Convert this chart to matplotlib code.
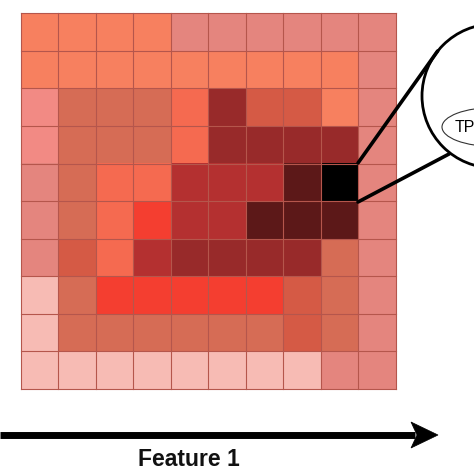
import numpy as np
import matplotlib
matplotlib.use("Agg")
import matplotlib.pyplot as plt
from matplotlib.colors import ListedColormap
from matplotlib.patches import Circle, Ellipse, Polygon

# colour palette for cell categories
palette = ["#F7805F", "#E4857E", "#F28A84", "#D66C55", "#F56A50", "#982A2A",
           "#D55A45", "#B43030", "#5C1818", "#000000", "#F43E30", "#F7BBB4"]
O, P, LP, M, BO, DR, MD, R, VD, K, BR, VL = range(12)

grid = [
    [O, O, O, O, P, P, P, P, P, P],
    [O, O, O, O, O, O, O, O, O, P],
    [LP, M, M, M, BO, DR, MD, MD, O, P],
    [LP, M, M, M, BO, DR, DR, DR, DR, P],
    [P, M, BO, BO, R, R, R, VD, K, P],
    [P, M, BO, BR, R, R, VD, VD, VD, P],
    [P, MD, BO, R, DR, DR, DR, DR, M, P],
    [VL, M, BR, BR, BR, BR, BR, MD, M, P],
    [VL, M, M, M, M, M, M, MD, M, P],
    [VL, VL, VL, VL, VL, VL, VL, VL, P, P],
]
callout_label = "TP"
axis_label = "Feature 1"

fig = plt.figure(figsize=(4.74, 4.74), dpi=100)
ax = fig.add_axes([0, 0, 1, 1])
ax.set_xlim(0, 474)
ax.set_ylim(474, 0)
ax.axis("off")

x0, x1, y0, y1 = 20.7, 395.7, 13.3, 389.0
ax.imshow(np.array(grid), cmap=ListedColormap(palette), vmin=-0.5, vmax=len(palette) - 0.5,
          extent=(x0, x1, y1, y0), interpolation="nearest", aspect="auto", zorder=1)
n = len(grid)
for xv in np.linspace(x0, x1, n + 1):
    ax.plot([xv, xv], [y0, y1], color="#B5564C", lw=0.8, zorder=2)
for yv in np.linspace(y0, y1, n + 1):
    ax.plot([x0, x1], [yv, yv], color="#B5564C", lw=0.8, zorder=2)

# callout circle
cx, cy, r = 494, 96, 72
ax.add_patch(Circle((cx, cy), r, fill=False, ec="black", lw=2.0, zorder=3))
# tangent line from top-right corner of black cell
px, py = 358, 163
d = np.hypot(cx - px, cy - py)
base = np.arctan2(cy - py, cx - px)
half = np.arcsin(r / d)
L = np.sqrt(d ** 2 - r ** 2)
ang = base - half
tx, ty = px + L * np.cos(ang), py + L * np.sin(ang)
ax.plot([px, tx + 4 * np.cos(ang)], [py, ty + 4 * np.sin(ang)], color="black", lw=2.6,
        solid_capstyle="round", zorder=3)
# lower line
qx, qy = 358, 202
ax.plot([qx, 449], [qy, 154], color="black", lw=2.6, solid_capstyle="round", zorder=3)

ax.add_patch(Ellipse((494, 127), 104, 39, fill=False, ec="#333333", lw=0.8, zorder=3))
ax.text(455, 127, callout_label, fontsize=11.5, ha="left", va="center",
        family="Liberation Sans", color="black", zorder=4)

# axis arrow
ax.plot([0, 415], [435, 435], color="black", lw=5, solid_capstyle="butt", zorder=3)
ax.add_patch(Polygon([(438, 435), (411, 422), (417, 435), (411, 448)], closed=True,
                     fc="black", ec="black", lw=0.5, zorder=3))
ax.text(189, 460, axis_label, fontsize=16.5, fontweight="bold", ha="center", va="center",
        family="Liberation Sans", color="#111111")

fig.savefig("out.png", dpi=100)
